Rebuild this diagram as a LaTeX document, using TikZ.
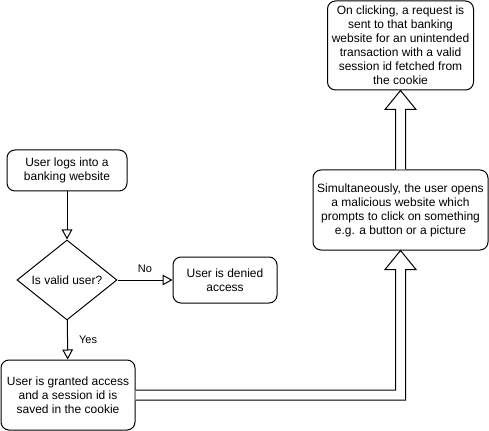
\documentclass[tikz,border=0pt]{standalone}
\usepackage{fontspec}
\setmainfont{Liberation Sans}
\usetikzlibrary{shapes.geometric,arrows.meta,calc}

\tikzset{
  box/.style={draw,rounded corners=6pt,align=center,inner sep=0pt,font=\fontsize{9}{10.5}\selectfont},
  lbl/.style={font=\fontsize{8.25}{10}\selectfont},
  flow/.style={-{Triangle[open,length=7.5pt,width=8pt]}},
  flexarrow/.style={draw,fill=white,line join=miter}
}

\begin{document}
\begin{tikzpicture}[x=0.75pt,y=-0.75pt,line width=0.75pt]
                \useasboundingbox (0,0) rectangle (489,431);

                \node[box,minimum width=90pt,minimum height=30.75pt] (login) at (67,170.5) {User logs into a\\banking website};
                \node[draw,diamond,aspect=1.25,inner sep=0pt,minimum width=75pt,minimum height=60pt,font=\fontsize{9}{10.5}\selectfont] (valid) at (67,280) {Is valid user?};
                \node[box,minimum width=78pt,minimum height=34.5pt] (denied) at (225,280) {User is denied\\access};
                \node[box,minimum width=100.5pt,minimum height=52.5pt] (granted) at (68,395) {User is granted access\\and a session id is\\saved in the cookie};
                \node[box,minimum width=131.25pt,minimum height=60pt] (malicious) at (400.5,210) {Simultaneously, the user opens\\a malicious website which\\prompts to click on something\\e.g. a button or a picture};
                \node[box,minimum width=109.5pt,minimum height=66.75pt] (request) at (400.5,45.5) {On clicking, a request is\\sent to that banking\\website for an unintended\\transaction with a valid\\session id fetched from\\the cookie};

                \draw[flow] (login) -- (valid);
                \draw[flow] (valid) -- node[lbl,above=2pt]{No} (denied);
                \draw[flow] (valid) -- node[lbl,right=5pt]{Yes} (granted);

                \draw[flexarrow] ($(granted.east)+(0,-5)$) -| ($(malicious.south)+(-5,19)$) -- ++(-10.5,0) -- (malicious.south) -- ($(malicious.south)+(15.5,19)$) -- ++(-10.5,0) |- ($(granted.east)+(0,5)$);
                \draw[flexarrow] ($(malicious.north)+(-5,0)$) -- ($(request.south)+(-5,19)$) -- ++(-10.5,0) -- (request.south) -- ($(request.south)+(15.5,19)$) -- ++(-10.5,0) -- ($(malicious.north)+(5,0)$);
            \end{tikzpicture}
\end{document}
